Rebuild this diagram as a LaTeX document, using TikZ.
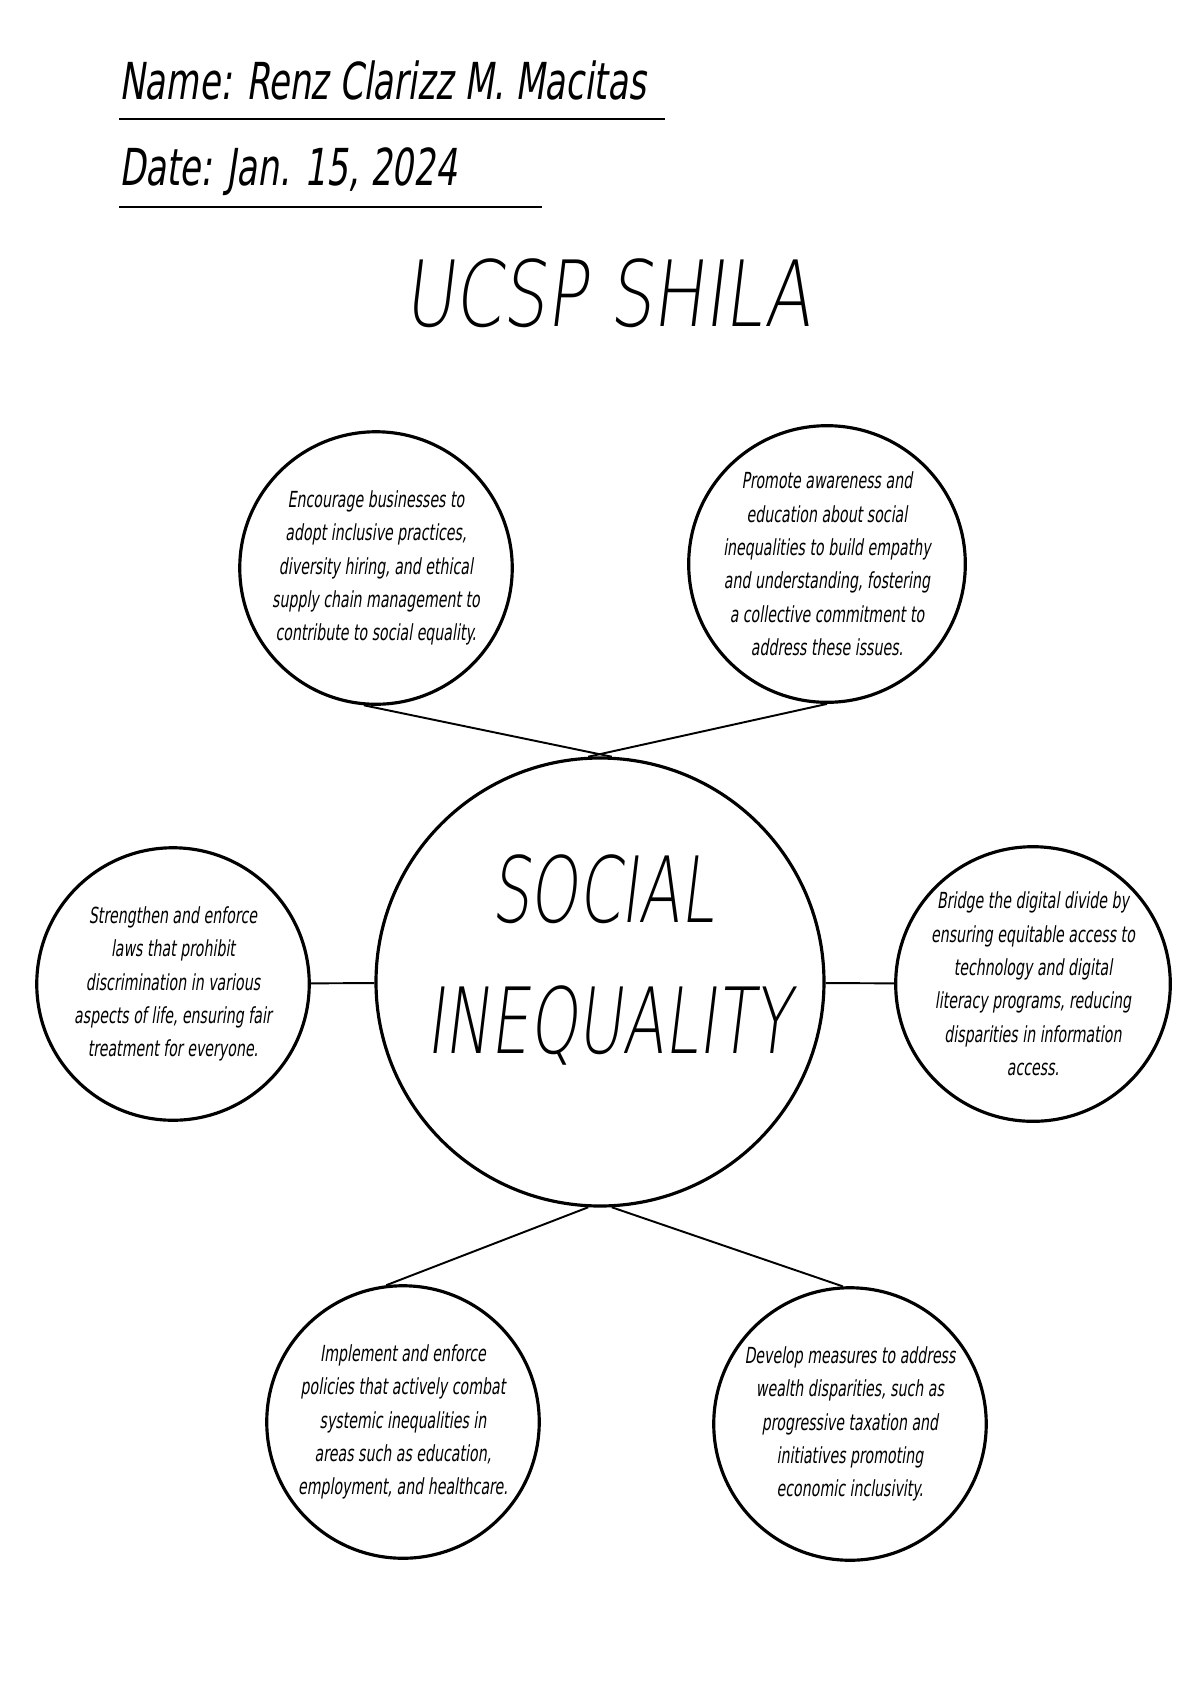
\documentclass[tikz,border=0pt]{standalone}
\usepackage{fontspec}
\newfontfamily\handfont[FakeSlant=0.15,FakeStretch=0.64]{DejaVu Sans}
\newfontfamily\headfont[FakeSlant=0.15,FakeStretch=0.67]{DejaVu Sans}
\newfontfamily\titlefont[FakeSlant=0.12,FakeStretch=0.75]{DejaVu Sans ExtraLight}
\newfontfamily\bigfont[FakeSlant=0.12,FakeStretch=0.67]{DejaVu Sans ExtraLight}
\tikzset{
  bubble/.style={draw, circle, line width=1.8pt, minimum size=5.45cm, inner sep=0,
    align=center, font=\handfont\fontsize{12.6}{19}\selectfont},
  hub/.style={draw, circle, line width=1.8pt, minimum size=8.96cm, inner sep=0},
  bigtext/.style={anchor=base, inner sep=0, font=\bigfont\fontsize{52}{74}\selectfont},
  header/.style={anchor=base west, inner sep=0, font=\headfont\fontsize{29}{35}\selectfont},
  spoke/.style={line width=1.1pt}
}
\begin{document}
\begin{tikzpicture}

\path [fill=white, use as bounding box] (0,0) rectangle (24,-33.96);

\node [header] (name) at (2.38,-1.98) {Name: Renz Clarizz M. Macitas};
\draw [line width=1.4pt] (2.38,-2.38) -- (13.3,-2.38);
\node [header] (date) at (2.38,-3.7) {Date: Jan. 15, 2024};
\draw [line width=1.4pt] (2.38,-4.14) -- (10.84,-4.14);

\node [bigtext, font=\titlefont\fontsize{52}{74}\selectfont] (title) at (12.16,-6.52) {UCSP SHILA};

\node [hub] (main) at (12,-19.64) {};
\node [bigtext] (hubtop) at (12.06,-18.44) {SOCIAL};
\node [bigtext] (hubbot) at (12.18,-21.06) {INEQUALITY};

\node [bubble] (tl) at (7.52,-11.36) {Encourage businesses to\\adopt inclusive practices,\\diversity hiring, and ethical\\supply chain management to\\contribute to social equality.};
\node [bubble] (tr) at (16.54,-11.28) {Promote awareness and\\education about social\\inequalities to build empathy\\and understanding, fostering\\a collective commitment to\\address these issues.};
\node [bubble] (lf) at (3.46,-19.68) {Strengthen and enforce\\laws that prohibit\\discrimination in various\\aspects of life, ensuring fair\\treatment for everyone.};
\node [bubble] (rt) at (20.66,-19.68) {Bridge the digital divide by\\ensuring equitable access to\\technology and digital\\literacy programs, reducing\\disparities in information\\access.};
\node [bubble] (bl) at (8.06,-28.44) {Implement and enforce\\policies that actively combat\\systemic inequalities in\\areas such as education,\\employment, and healthcare.};
\node [bubble] (br) at (17.0,-28.48) {Develop measures to address\\wealth disparities, such as\\progressive taxation and\\initiatives promoting\\economic inclusivity.};

\draw [spoke] (tl.265) -- (main.87);
\draw [spoke] (tr.south) -- (main.93);
\draw [spoke] (lf) -- (main);
\draw [spoke] (rt) -- (main);
\draw [spoke] (bl.97) -- (main.267);
\draw [spoke] (br.93) -- (main.273);

\end{tikzpicture}
\end{document}
